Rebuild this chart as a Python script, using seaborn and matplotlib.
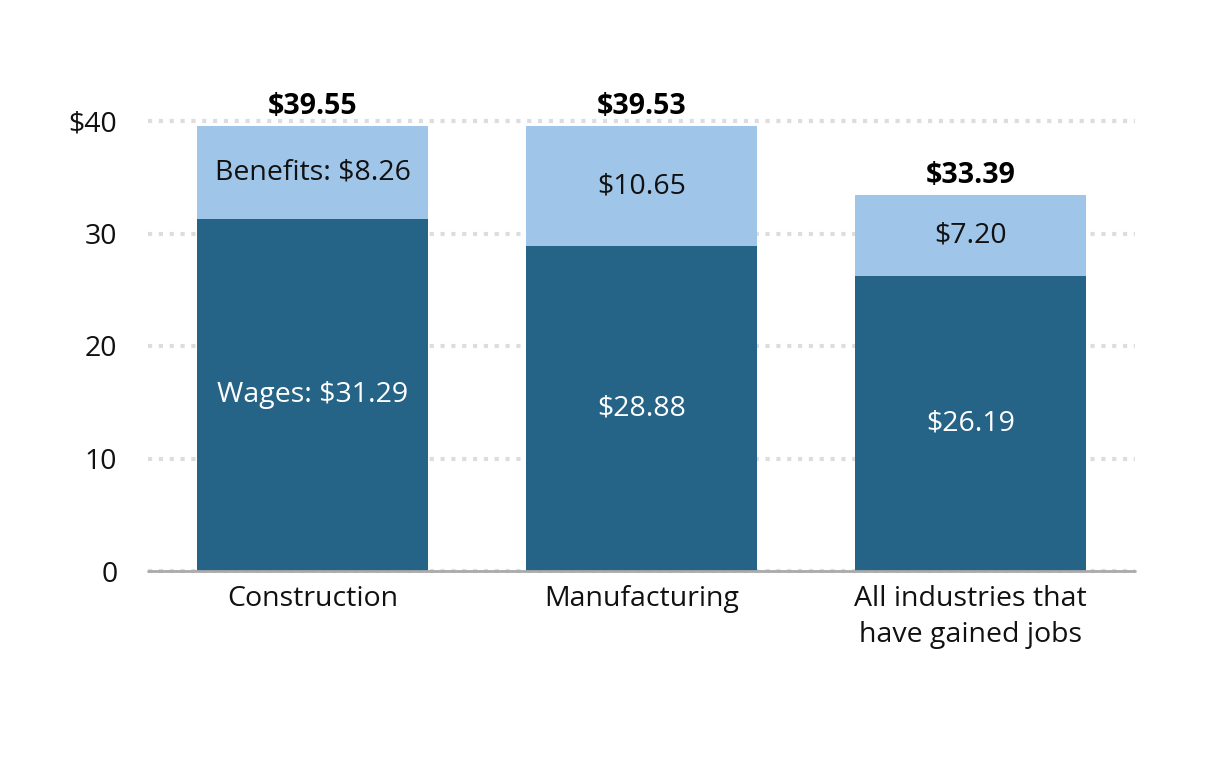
import matplotlib
matplotlib.use("Agg")
import matplotlib.pyplot as plt
import seaborn as sns
import pandas as pd

categories = ["Construction", "Manufacturing", "All industries that\nhave gained jobs"]
wages = [31.29, 28.88, 26.19]
benefits = [8.26, 10.65, 7.20]
totals = [39.55, 39.53, 33.39]
wage_labels = ["Wages: $31.29", "$28.88", "$26.19"]
benefit_labels = ["Benefits: $8.26", "$10.65", "$7.20"]
total_labels = ["$39.55", "$39.53", "$33.39"]
yticks = [0, 10, 20, 30, 40]
ytick_labels = ["0", "10", "20", "30", "$40"]

sns.set_theme(style="white")
plt.rcParams['font.family'] = ['Open Sans', 'DejaVu Sans']

dark = "#266487"
light = "#9fc5e8"
FS = 20.5
TXT = "#111111"

df = pd.DataFrame({"cat": categories, "wages": wages, "benefits": benefits,
                   "stack": [w + b for w, b in zip(wages, benefits)]})

fig = plt.figure(figsize=(12.16, 7.61), dpi=100)
ax = fig.add_axes([148/1216, (761-571)/761, 987/1216, 450/761])

for y in yticks:
    ax.axhline(y, color="#dddddd", lw=3, ls=(0, (1, 1.6)), zorder=0, clip_on=False)

sns.barplot(data=df, x="cat", y="stack", color=light, saturation=1, width=0.7, ax=ax, zorder=2, linewidth=0)
sns.barplot(data=df, x="cat", y="wages", color=dark, saturation=1, width=0.7, ax=ax, zorder=3, linewidth=0)

ax.axhline(0, color="#aaaaaa", lw=2, zorder=4, clip_on=False)

for i in range(len(categories)):
    ax.text(i, wages[i] / 2, wage_labels[i], ha="center", va="center", color="white", fontsize=FS, zorder=5)
    ax.text(i, wages[i] + benefits[i] / 2, benefit_labels[i], ha="center", va="center", color=TXT, fontsize=FS, zorder=5)
    ax.annotate(total_labels[i], (i, wages[i] + benefits[i]), xytext=(0, 4), textcoords="offset points",
                ha="center", va="bottom", fontsize=FS, fontweight="bold", color="black", zorder=5)

ax.set_xlim(-0.5, 2.5)
ax.set_ylim(0, 40)
ax.set_yticks(yticks)
ax.set_yticklabels(ytick_labels, fontsize=FS, color=TXT)
ax.tick_params(axis="y", length=0, pad=22)
ax.tick_params(axis="x", length=0, pad=10, labelsize=FS, labelcolor=TXT)
ax.set_xlabel("")
ax.set_ylabel("")
for s in ax.spines.values():
    s.set_visible(False)
for lbl in ax.get_xticklabels():
    lbl.set_linespacing(1.4)

fig.savefig("out.png", dpi=100)
